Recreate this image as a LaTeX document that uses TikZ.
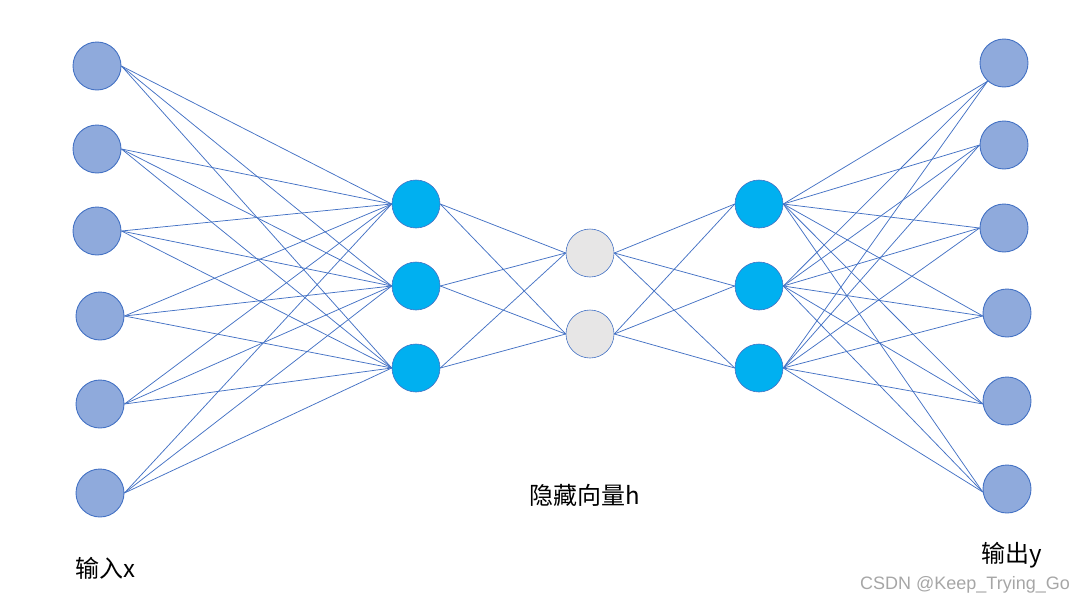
\documentclass[tikz,border=0pt]{standalone}
\usepackage{fontspec}
\newfontfamily\cjk{Noto Sans CJK SC}
\newfontfamily\wm{Liberation Sans}
\definecolor{edge}{HTML}{4472C4}
\definecolor{iofill}{HTML}{8FAADC}
\definecolor{hidfill}{HTML}{00B0F0}
\definecolor{latfill}{HTML}{E7E6E6}
\definecolor{wmgray}{HTML}{A6A6A6}
\tikzset{
  neuron/.style={circle, draw=edge, line width=0.9pt, minimum size=48pt, inner sep=0pt},
  ionode/.style={neuron, fill=iofill},
  hidnode/.style={neuron, fill=hidfill, line width=0.6pt},
  latnode/.style={neuron, fill=latfill, line width=0.6pt},
  conn/.style={draw=edge, line width=0.75pt},
  lbl/.style={font=\cjk\fontsize{24}{28}\selectfont, text=black, inner sep=0pt}
}
\begin{document}
\begin{tikzpicture}[x=1pt,y=-1pt]
\useasboundingbox (0,0) rectangle (1084,605);
% input layer
\node[ionode] (i1) at (97,66) {};
\node[ionode] (i2) at (97,149) {};
\node[ionode] (i3) at (97,231) {};
\node[ionode] (i4) at (100,316) {};
\node[ionode] (i5) at (100,404) {};
\node[ionode] (i6) at (100,493) {};
% hidden encoder
\node[hidnode] (a1) at (416,204) {};
\node[hidnode] (a2) at (416,286) {};
\node[hidnode] (a3) at (416,368) {};
% latent
\node[latnode] (h1) at (590,253) {};
\node[latnode] (h2) at (590,334) {};
% hidden decoder
\node[hidnode] (b1) at (759,204) {};
\node[hidnode] (b2) at (759,286) {};
\node[hidnode] (b3) at (759,368) {};
% output layer
\node[ionode] (o1) at (1004,63) {};
\node[ionode] (o2) at (1004,145) {};
\node[ionode] (o3) at (1004,228) {};
\node[ionode] (o4) at (1007,313) {};
\node[ionode] (o5) at (1007,401) {};
\node[ionode] (o6) at (1007,489) {};
% connections
\foreach \i in {1,...,6}{
  \foreach \j in {1,2,3}{
    \draw[conn] (i\i.east) -- (a\j.west);
  }
}
\foreach \j in {1,2,3}{
  \foreach \k in {1,2}{
    \draw[conn] (a\j.east) -- (h\k.west);
    \draw[conn] (h\k.east) -- (b\j.west);
  }
}
\foreach \j in {1,2,3}{
  \draw[conn] (b\j.east) -- (o1.228);
  \draw[conn] (b\j.east) -- (o2.west);
  \draw[conn] (b\j.east) -- (o3.west);
  \draw[conn] (b\j.east) -- (o4.187);
  \draw[conn] (b\j.east) -- (o5.187);
  \draw[conn] (b\j.east) -- (o6.187);
}
% labels
\node[lbl] (tin) at (105,568) {输入x};
\node[lbl] (th) at (585,495) {隐藏向量h};
\node[lbl] (tout) at (1012,555) {输出y};
\node[font=\wm\fontsize{18}{21}\selectfont, text=wmgray, inner sep=0pt] (wm) at (965,585) {CSDN @Keep\_Trying\_Go};
\end{tikzpicture}
\end{document}
